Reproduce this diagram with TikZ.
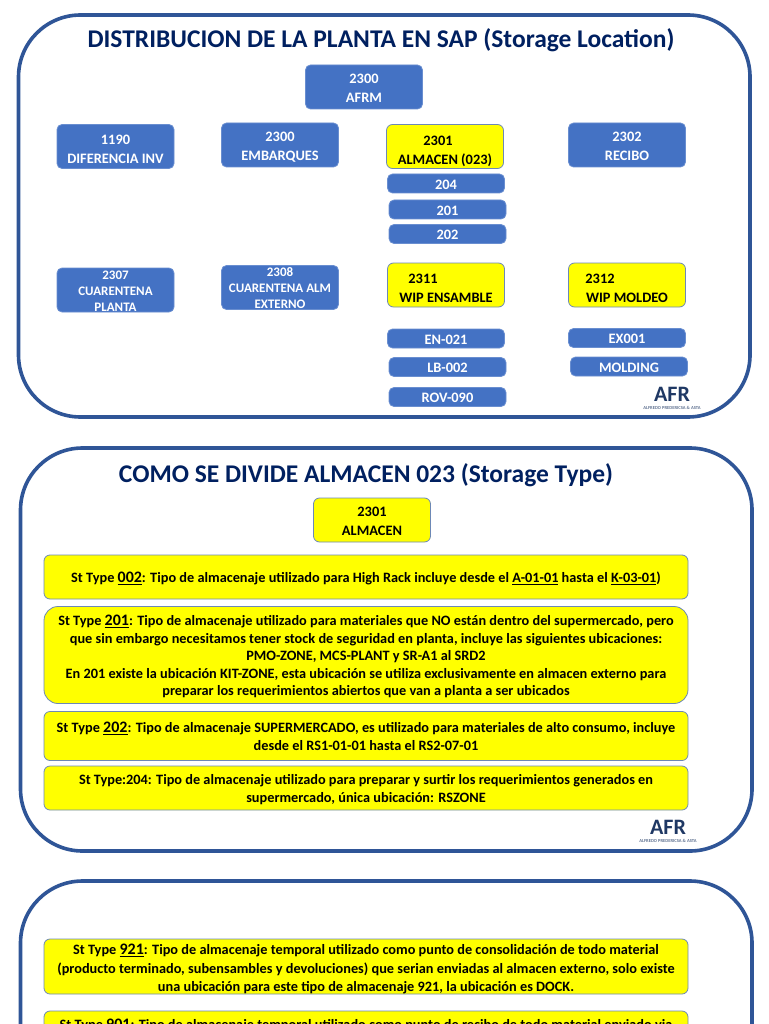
\documentclass[tikz,border=0pt]{standalone}
\usepackage{fontspec}
\setmainfont{Carlito}
\definecolor{framecol}{HTML}{2F5597}
\definecolor{bluebox}{HTML}{4472C4}
\definecolor{titlecol}{HTML}{002060}
\definecolor{logocol}{HTML}{1F3864}
\definecolor{yelbox}{HTML}{FFFF00}
\newcommand{\stnum}[1]{\underline{\smash{\fontsize{16}{16}\selectfont #1}}}
\newcommand{\low}[1]{\rule{0pt}{#1pt}}
\tikzset{
  frame/.style={draw=framecol,line width=3.6pt,fill=white,rounded corners=62pt},
  base/.style={anchor=center,inner sep=0pt,outer sep=0pt,align=center,font=\bfseries\fontsize{14.4}{18.7}\selectfont},
  bluebox/.style={base,draw=bluebox!80!white,line width=.8pt,fill=bluebox,text=white,rounded corners=5pt},
  yelbox/.style={base,draw=framecol!70!white,line width=.8pt,fill=yelbox,text=black,rounded corners=6pt},
  wide/.style={yelbox,font=\bfseries\fontsize{14.3}{18.5}\selectfont,minimum width=644pt},
  title/.style={anchor=center,inner sep=0pt,text=titlecol,font=\bfseries\fontsize{25.5}{28}\selectfont},
  big/.style={minimum width=117pt,minimum height=44pt},
  small/.style={minimum width=117pt,minimum height=19pt},
  three/.style={font=\bfseries\fontsize{13}{15.8}\selectfont},
  logomark/.style={anchor=center,inner sep=0pt,text=logocol,font=\bfseries\fontsize{22}{22}\selectfont},
  logosub/.style={anchor=center,inner sep=0pt,text=logocol!70!white,font=\bfseries\fontsize{4.6}{5}\selectfont},
}
\begin{document}
\begin{tikzpicture}[x=1pt,y=-1pt]
\useasboundingbox (0,0) rectangle (768,1024);
\clip (0,0) rectangle (768,1024);
\fill[white] (0,0) rectangle (768,1024);
% frames
\path[frame] (18.5,15) rectangle (750,417);
\path[frame] (20.5,448) rectangle (752,851);
\path[frame] (20.5,881) rectangle (752,1120);
% panel 1
\node[title] (t1) at (381,40) {DISTRIBUCION DE LA PLANTA EN SAP (Storage Location)};
\node[bluebox,big] (afrm) at (364,87) {\low{11.5}2300\\AFRM};
\node[bluebox,big] (dif) at (115.5,146.5) {\low{15.5}1190\\DIFERENCIA INV};
\node[bluebox,big] (emb) at (280,145) {\low{14.5}2300\\EMBARQUES};
\node[yelbox,big] (alm) at (445,146.5) {\low{19}2301\hspace*{14pt}\\ALMACEN (023)};
\node[bluebox,big] (rec) at (627,145) {\low{12.5}2302\\RECIBO};
\node[bluebox,small] (s204) at (446,183.5) {\low{11.5}204};
\node[bluebox,small] (s201) at (447.5,209.5) {\low{11.5}201};
\node[bluebox,small] (s202) at (447.5,234) {\low{11.5}202};
\node[bluebox,big,three] (cp) at (115.5,290) {\low{10.5}2307\\CUARENTENA\\PLANTA};
\node[bluebox,big,three] (ca) at (280,287.5) {\low{10.5}2308\\CUARENTENA ALM\\EXTERNO};
\node[yelbox,big] (wen) at (446,285) {\low{15.5}2311\hspace*{46pt}\\WIP ENSAMBLE};
\node[yelbox,big] (wmo) at (627,285) {\low{15.5}\hspace*{-4pt}2312\hspace*{50pt}\\WIP MOLDEO};
\node[bluebox,small] (en) at (446,338.5) {\low{11.5}EN-021};
\node[bluebox,small] (lb) at (447.5,367) {\low{11.5}LB-002};
\node[bluebox,small] (rov) at (447.5,397) {\low{11.5}ROV-090};
\node[bluebox,small] (ex) at (627,338) {\low{11.5}EX001};
\node[bluebox,small] (mol) at (629,366.5) {\low{11.5}MOLDING};
% logo
\node[logomark] (logo) at (672,394) {AFR};
\node[logosub] (logot) at (672,407.5) {ALFREDO PREDERICSA \& ASTA};
% panel 2
\node[title] (t2) at (366,475) {COMO SE DIVIDE ALMACEN 023 (Storage Type)};
\node[yelbox,big] (a2) at (372,520) {\low{12.5}2301\\ALMACEN};
\node[wide,minimum height=44pt] (b002) at (366,577) {\low{13.5}St Type \stnum{002}: Tipo de almacenaje utilizado para High Rack incluye desde el \underline{\smash{A-01-01}} hasta el \underline{\smash{K-03-01}})};
\node[wide,minimum height=97pt,rounded corners=14pt,font=\bfseries\fontsize{14.3}{17.6}\selectfont] (b201) at (366,655) {\low{13.5}St Type \stnum{201}: Tipo de almacenaje utilizado para materiales que NO están dentro del supermercado, pero\\que sin embargo necesitamos tener stock de seguridad en planta, incluye las siguientes ubicaciones:\\PMO-ZONE, MCS-PLANT y SR-A1 al SRD2\\En 201 existe la ubicación KIT-ZONE, esta ubicación se utiliza exclusivamente en almacen externo para\\preparar los requerimientos abiertos que van a planta a ser ubicados};
\node[wide,minimum height=49pt] (b202) at (366,736) {\low{11.5}St Type \stnum{202}: Tipo de almacenaje SUPERMERCADO, es utilizado para materiales de alto consumo, incluye\\desde el RS1-01-01 hasta el RS2-07-01};
\node[wide,minimum height=44pt] (b204) at (366,788) {\low{13.5}St Type:204: Tipo de almacenaje utilizado para preparar y surtir los requerimientos generados en\\supermercado, única ubicación: RSZONE};
\node[logomark] (logo2) at (668,827) {AFR};
\node[logosub] (logot2) at (668,840.5) {ALFREDO PREDERICSA \& ASTA};
% panel 3
\node[wide,minimum height=55pt] (b921) at (366,966.5) {\low{15.5}St Type \stnum{921}: Tipo de almacenaje temporal utilizado como punto de consolidación de todo material\\(producto terminado, subensambles y devoluciones) que serian enviadas al almacen externo, solo existe\\una ubicación para este tipo de almacenaje 921, la ubicación es DOCK.};
\node[wide,minimum height=55pt,anchor=north] (b901) at (366,1011) {};
\node[base,anchor=base,font=\bfseries\fontsize{14.3}{18}\selectfont] (b901t) at (366,1029) {St Type \stnum{901}: Tipo de almacenaje temporal utilizado como punto de recibo de todo material enviado via};
\end{tikzpicture}
\end{document}
